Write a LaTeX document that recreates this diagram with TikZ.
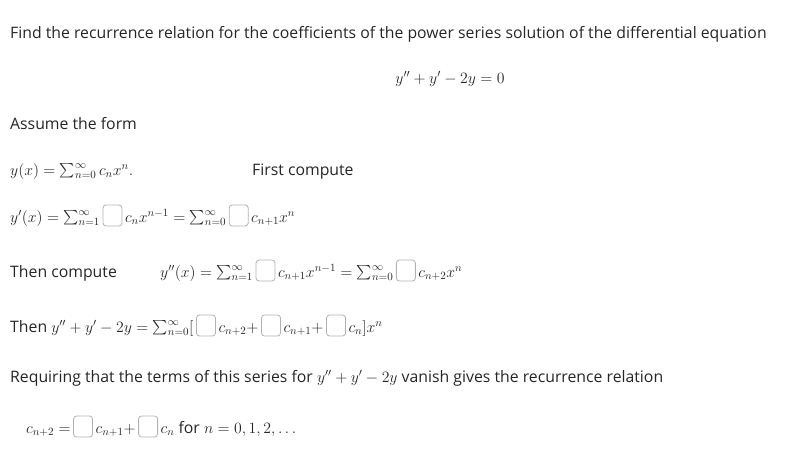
\RequirePackage{fix-cm}
\documentclass[tikz,border=0pt]{standalone}
\usepackage{amsmath}
\usepackage{fontspec}
\setmainfont{Open Sans}
\newcommand\bx{\,\tikz[baseline=-5pt]\draw[gray!60,rounded corners=3pt,line width=0.8pt] (0,-9pt) rectangle (19pt,12pt);\,}
\begin{document}
\begin{tikzpicture}[x=1pt,y=-1pt,
  txt/.style={anchor=base west,inner sep=0pt,font=\fontsize{15.8}{19}\selectfont,text=black!85}]
\useasboundingbox (0,0) rectangle (786,466);
\node[txt] (l1) at (10,38) {Find the recurrence relation for the coefficients of the power series solution of the differential equation};
\node[txt,anchor=base] (eq) at (450,83) {$y''+y'-2y=0$};
\node[txt] (l2) at (10,129) {Assume the form};
\node[txt] (l3) at (10,175) {$y(x)=\sum_{n=0}^{\infty}c_nx^n.$};
\node[txt] (l3b) at (252,175) {First compute};
\node[txt] (l4) at (10,222) {$y'(x)=\sum_{n=1}^{\infty}$\bx$c_nx^{n-1}=\sum_{n=0}^{\infty}$\bx$c_{n+1}x^n$};
\node[txt] (l5) at (10,277) {Then compute};
\node[txt] (l5b) at (160,277) {$y''(x)=\sum_{n=1}^{\infty}$\bx$c_{n+1}x^{n-1}=\sum_{n=0}^{\infty}$\bx$c_{n+2}x^n$};
\node[txt] (l6) at (10,332) {Then $y''+y'-2y=\sum_{n=0}^{\infty}[$\bx$c_{n+2}+$\bx$c_{n+1}+$\bx$c_n]x^n$};
\node[txt] (l7) at (10,382) {Requiring that the terms of this series for $y''+y'-2y$ vanish gives the recurrence relation};
\node[txt] (l8) at (26,433) {$c_{n+2}=$\bx$c_{n+1}+$\bx$c_n$ for $n=0,1,2,\ldots$};
\end{tikzpicture}
\end{document}
